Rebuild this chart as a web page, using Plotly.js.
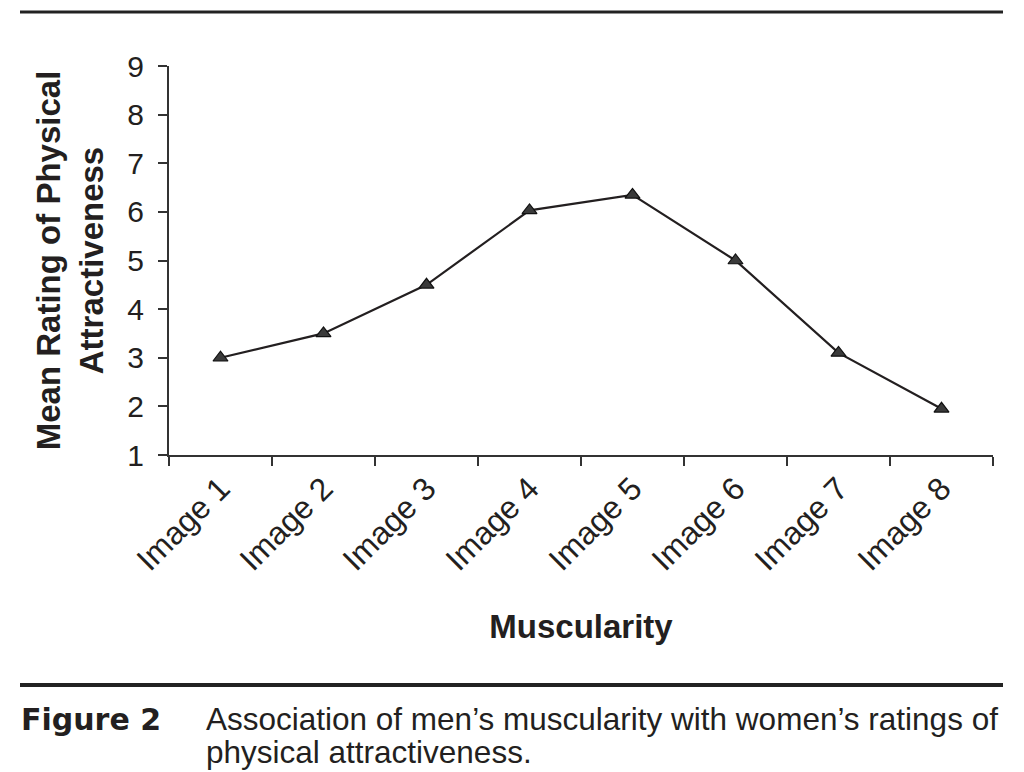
<!DOCTYPE html>
<html>
<head>
<meta charset="utf-8">
<script src="https://cdn.plot.ly/plotly-3.0.1.min.js"></script>
<style>
  html, body { margin: 0; padding: 0; background: #fff; }
  #chart { width: 1024px; height: 772px; }
</style>
</head>
<body>
<div id="chart"></div>
<script>
// Mean attractiveness rating for each level of muscularity
const images = ["Image 1", "Image 2", "Image 3", "Image 4", "Image 5", "Image 6", "Image 7", "Image 8"];
const meanRatings = [3.0, 3.5, 4.5, 6.03, 6.35, 5.0, 3.1, 1.95];
const yTicks = [1, 2, 3, 4, 5, 6, 7, 8, 9];

const W = 1024, H = 772;
const M = { l: 169, r: 31, t: 66, b: 317 };
const plotW = W - M.l - M.r, plotH = H - M.t - M.b;
// convert page pixels to paper coordinates for the rules and caption
const px = x => (x - M.l) / plotW;
const py = y => (H - M.b - y) / plotH;

const font = "Liberation Sans, Arial, Helvetica, sans-serif";
const heavy = "DejaVu Sans, Arial Black, sans-serif";
const ink = "#231f20";

const trace = {
  type: "scatter",
  mode: "lines+markers",
  x: images,
  y: meanRatings,
  line: { color: ink, width: 2.2 },
  marker: { symbol: "triangle-up", size: 13, color: "#3a3a3a", line: { color: "#111", width: 1.2 } },
  hoverinfo: "x+y"
};

const layout = {
  width: W, height: H,
  margin: M,
  paper_bgcolor: "#fff", plot_bgcolor: "#fff",
  showlegend: false,
  font: { family: font, color: ink },
  xaxis: {
    type: "category",
    range: [-0.5, 7.5],
    tickson: "boundaries",
    ticks: "outside", ticklen: 9, tickwidth: 2, tickcolor: "#333",
    showline: true, linecolor: "#333", linewidth: 2,
    showgrid: false, zeroline: false,
    tickangle: -45,
    tickfont: { size: 32, family: font, color: ink },
    automargin: false,
    title: { text: "<b>Muscularity</b>", font: { size: 33, family: font, color: ink }, standoff: 38 }
  },
  yaxis: {
    range: [1, 9],
    tickvals: yTicks,
    ticks: "outside", ticklen: 9, tickwidth: 2, tickcolor: "#333",
    ticklabelstandoff: 8,
    showline: true, linecolor: "#333", linewidth: 2,
    showgrid: false, zeroline: false,
    tickfont: { size: 30, family: font, color: ink },
    automargin: false,
    title: { text: "<b>Mean Rating of Physical<br>Attractiveness</b>", font: { size: 33, family: font, color: ink }, standoff: 14 }
  },
  shapes: [
    { type: "line", xref: "paper", yref: "paper", x0: px(20), x1: px(1003), y0: py(12), y1: py(12), line: { color: "#222", width: 3 } },
    { type: "line", xref: "paper", yref: "paper", x0: px(20), x1: px(1003), y0: py(685), y1: py(685), line: { color: "#222", width: 4 } }
  ],
  annotations: [
    { xref: "paper", yref: "paper", x: px(19), y: py(719), xanchor: "left", yanchor: "middle", showarrow: false,
      text: "<b>Figure 2</b>", font: { size: 30, family: heavy, color: ink } },
    { xref: "paper", yref: "paper", x: px(204), y: py(719), xanchor: "left", yanchor: "middle", showarrow: false,
      text: "Association of men’s muscularity with women’s ratings of", font: { size: 31.5, family: font, color: ink } },
    { xref: "paper", yref: "paper", x: px(204), y: py(752), xanchor: "left", yanchor: "middle", showarrow: false,
      text: "physical attractiveness.", font: { size: 31.5, family: font, color: ink } }
  ]
};

Plotly.newPlot("chart", [trace], layout, { displayModeBar: false, staticPlot: true });
</script>
</body>
</html>
